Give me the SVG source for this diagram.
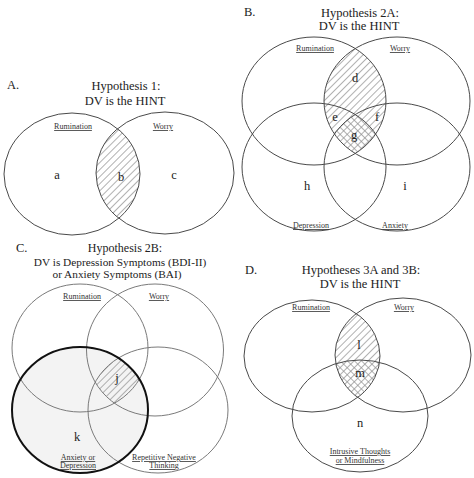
<svg xmlns="http://www.w3.org/2000/svg" width="474" height="478" viewBox="0 0 474 478">
<defs>
<style>
.c{fill:none;stroke:#4a4a4a;stroke-width:1}
.cl{fill:none;stroke:#7a7a7a;stroke-width:1}
.ck{fill:none;stroke:#111;stroke-width:2}
.t{font-family:"Liberation Serif","Times New Roman",serif;font-size:12.5px;fill:#222;text-anchor:middle}
.tc{font-family:"Liberation Serif","Times New Roman",serif;font-size:11.3px;fill:#222;text-anchor:middle}
.pl{font-family:"Liberation Serif","Times New Roman",serif;font-size:12.5px;fill:#222}
.lab{font-family:"Liberation Serif","Times New Roman",serif;font-size:8px;fill:#333;text-anchor:middle;text-decoration:underline}
.let{font-family:"Liberation Serif","Times New Roman",serif;font-size:12.5px;fill:#222;text-anchor:middle}
</style>
<pattern id="h1" patternUnits="userSpaceOnUse" width="5" height="5" patternTransform="rotate(45)"><line x1="0.5" y1="0" x2="0.5" y2="5" stroke="#8f8f8f" stroke-width="0.7"/></pattern>
<pattern id="h2" patternUnits="userSpaceOnUse" width="5" height="5" patternTransform="rotate(-45)"><line x1="0.5" y1="0" x2="0.5" y2="5" stroke="#8f8f8f" stroke-width="0.7"/></pattern>
<clipPath id="cA1"><ellipse cx="72" cy="174" rx="68" ry="61"/></clipPath>
<clipPath id="cA2"><ellipse cx="165" cy="173" rx="69" ry="61"/></clipPath>
<clipPath id="cBR"><ellipse cx="314" cy="101" rx="72" ry="64"/></clipPath>
<clipPath id="cBW"><ellipse cx="397" cy="101" rx="73" ry="64"/></clipPath>
<clipPath id="cBD"><ellipse cx="314" cy="167" rx="72" ry="64"/></clipPath>
<clipPath id="cBA"><ellipse cx="397" cy="167" rx="73" ry="64"/></clipPath>
<clipPath id="cCR"><ellipse cx="80" cy="348" rx="68" ry="64"/></clipPath>
<clipPath id="cCW"><ellipse cx="155" cy="350" rx="68.5" ry="66"/></clipPath>
<clipPath id="cCK"><ellipse cx="80" cy="410" rx="68" ry="63"/></clipPath>
<clipPath id="cCT"><ellipse cx="158" cy="410" rx="70" ry="63"/></clipPath>
<clipPath id="cDR"><ellipse cx="312" cy="356" rx="68" ry="56"/></clipPath>
<clipPath id="cDW"><ellipse cx="403" cy="355" rx="68" ry="57"/></clipPath>
<clipPath id="cDI"><ellipse cx="360" cy="416" rx="68" ry="56"/></clipPath>
</defs>
<rect x="0" y="0" width="474" height="478" fill="#fff"/>

<!-- Panel A -->
<g id="panelA-title">
<text class="pl" x="7" y="89">A.</text>
<text class="t" x="126" y="90">Hypothesis 1:</text>
<text class="t" x="125" y="105">DV is the HINT</text>
</g>
<g id="A-hatch" clip-path="url(#cA1)"><rect clip-path="url(#cA2)" x="90" y="110" width="60" height="130" fill="url(#h1)"/></g>
<g id="A-rumination">
<ellipse class="c" cx="72" cy="174" rx="68" ry="61"/>
<text class="lab" x="73" y="129">Rumination</text>
<text class="let" x="57" y="179">a</text>
</g>
<g id="A-worry">
<ellipse class="c" cx="165" cy="173" rx="69" ry="61"/>
<text class="lab" x="163" y="129">Worry</text>
<text class="let" x="174" y="179">c</text>
</g>
<g id="A-overlap"><text class="let" x="121" y="181">b</text></g>

<!-- Panel B -->
<g id="panelB-title">
<text class="pl" x="244" y="16">B.</text>
<text class="t" x="360" y="17">Hypothesis 2A:</text>
<text class="t" x="359" y="30">DV is the HINT</text>
</g>
<g id="B-hatch" clip-path="url(#cBR)"><rect clip-path="url(#cBW)" x="320" y="35" width="75" height="130" fill="url(#h1)"/></g>
<g id="B-cross" clip-path="url(#cBR)"><g clip-path="url(#cBW)"><g clip-path="url(#cBD)"><rect clip-path="url(#cBA)" x="320" y="100" width="75" height="70" fill="url(#h2)"/></g></g></g>
<g id="B-rumination">
<ellipse class="c" cx="314" cy="101" rx="72" ry="64"/>
<text class="lab" x="315" y="51">Rumination</text>
</g>
<g id="B-worry">
<ellipse class="c" cx="397" cy="101" rx="73" ry="64"/>
<text class="lab" x="400" y="51">Worry</text>
</g>
<g id="B-depression">
<ellipse class="c" cx="314" cy="167" rx="72" ry="64"/>
<text class="lab" x="311" y="228">Depression</text>
<text class="let" x="307" y="190">h</text>
</g>
<g id="B-anxiety">
<ellipse class="c" cx="397" cy="167" rx="73" ry="64"/>
<text class="lab" x="395" y="228">Anxiety</text>
<text class="let" x="405" y="190">i</text>
</g>
<g id="B-overlaps">
<text class="let" x="355" y="82">d</text>
<text class="let" x="335" y="121">e</text>
<text class="let" x="377" y="121">f</text>
<text class="let" x="354" y="139">g</text>
</g>

<!-- Panel C -->
<g id="panelC-title">
<text class="pl" x="16" y="252">C.</text>
<text class="t" x="125" y="252" style="font-size:12px">Hypothesis 2B:</text>
<text class="tc" x="120" y="266">DV is Depression Symptoms (BDI-II)</text>
<text class="tc" x="117" y="278">or Anxiety Symptoms (BAI)</text>
</g>
<ellipse cx="80" cy="410" rx="68" ry="63" fill="#f3f3f3"/>
<g id="C-hatch" clip-path="url(#cCR)"><g clip-path="url(#cCW)"><g clip-path="url(#cCK)"><rect clip-path="url(#cCT)" x="85" y="340" width="65" height="70" fill="url(#h1)"/></g></g></g>
<g id="C-rumination">
<ellipse class="cl" cx="80" cy="348" rx="68" ry="64"/>
<text class="lab" x="82" y="299">Rumination</text>
</g>
<g id="C-worry">
<ellipse class="cl" cx="155" cy="350" rx="68.5" ry="66"/>
<text class="lab" x="159" y="299">Worry</text>
</g>
<g id="C-rnt">
<ellipse class="cl" cx="158" cy="410" rx="70" ry="63"/>
<text class="lab" x="164" y="460">Repetitive Negative</text>
<text class="lab" x="164" y="468">Thinking</text>
</g>
<g id="C-anxdep">
<ellipse class="ck" cx="80" cy="410" rx="68" ry="63"/>
<text class="lab" x="78" y="460">Anxiety or</text>
<text class="lab" x="78" y="468">Depression</text>
<text class="let" x="77" y="441">k</text>
</g>
<g id="C-overlap"><text class="let" x="117" y="382">j</text></g>

<!-- Panel D -->
<g id="panelD-title">
<text class="pl" x="245" y="274">D.</text>
<text class="t" x="361" y="274">Hypotheses 3A and 3B:</text>
<text class="t" x="360" y="288">DV is the HINT</text>
</g>
<g id="D-hatch" clip-path="url(#cDR)"><rect clip-path="url(#cDW)" x="330" y="295" width="60" height="120" fill="url(#h1)"/></g>
<g id="D-cross" clip-path="url(#cDR)"><g clip-path="url(#cDW)"><rect clip-path="url(#cDI)" x="330" y="355" width="60" height="60" fill="url(#h2)"/></g></g>
<g id="D-rumination">
<ellipse class="c" cx="312" cy="356" rx="68" ry="56"/>
<text class="lab" x="311" y="310">Rumination</text>
</g>
<g id="D-worry">
<ellipse class="c" cx="403" cy="355" rx="68" ry="57"/>
<text class="lab" x="404" y="310">Worry</text>
</g>
<g id="D-intrusive">
<ellipse class="c" cx="360" cy="416" rx="68" ry="56"/>
<text class="lab" x="360" y="454">Intrusive Thoughts</text>
<text class="lab" x="360" y="463">or Mindfulness</text>
<text class="let" x="360" y="427">n</text>
</g>
<g id="D-overlaps">
<text class="let" x="359" y="349">l</text>
<text class="let" x="360" y="377">m</text>
</g>
</svg>
